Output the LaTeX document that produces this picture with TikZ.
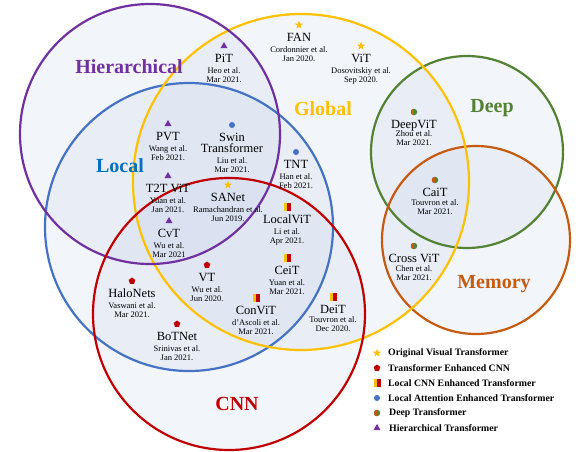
\documentclass[tikz,border=0pt]{standalone}
\usepackage{fontspec}
\setmainfont{Liberation Serif}
\usetikzlibrary{shapes.geometric}
\definecolor{hiercol}{HTML}{7030A0}
\definecolor{globcol}{HTML}{FFC000}
\definecolor{loccol}{HTML}{4472C4}
\definecolor{loctext}{HTML}{0070C0}
\definecolor{cnncol}{HTML}{C00000}
\definecolor{deepcol}{HTML}{548235}
\definecolor{memcol}{HTML}{C55A11}
\definecolor{setfill}{RGB}{200,210,235}
% marker, title and authors of one model
\newcommand{\model}[8][0]{%
  \node[#5] (#2-mark) at (#3,#4) {};
  \node[title, anchor=base] (#2) at (#3,#4+16) {#6};
  \node[info, anchor=base] (#2-auth) at (#3,#4+27+#1) {#7};
  \node[info, anchor=base] (#2-date) at (#3,#4+36+#1) {#8};
}
\begin{document}
\begin{tikzpicture}[x=1pt, y=-1pt,
  area/.style={fill=setfill, fill opacity=0.22},
  ring/.style={line width=2.2pt},
  group/.style={font=\fontsize{20}{22}\selectfont\bfseries},
  title/.style={font=\fontsize{12.5}{13}\selectfont, inner sep=0pt},
  info/.style={font=\fontsize{8.5}{9}\selectfont, inner sep=0pt},
  legend/.style={font=\fontsize{9.8}{11}\selectfont\bfseries, inner sep=0pt, anchor=west},
  origmark/.style={star, star points=5, star point ratio=2.3, fill=globcol, inner sep=0pt, minimum size=8.5pt},
  cnnmark/.style={regular polygon, regular polygon sides=5, fill=cnncol, inner sep=0pt, minimum size=7pt},
  lcnnmark/.style={rectangle, fill=cnncol, minimum width=7pt, minimum height=8pt, inner sep=0pt,
    path picture={\fill[globcol] (path picture bounding box.south west) rectangle (path picture bounding box.north);}},
  attmark/.style={circle, fill=loccol, minimum size=6pt, inner sep=0pt},
  deepmark/.style={circle, fill=deepcol, minimum size=6.5pt, inner sep=0pt,
    path picture={\fill[memcol] (path picture bounding box.south west) rectangle (path picture bounding box.north);}},
  hiermark/.style={regular polygon, regular polygon sides=3, fill=hiercol, inner sep=0pt, minimum size=8pt}]
\useasboundingbox[fill=white] (0,0) rectangle (576,451);
% the six sets
\coordinate (hier) at (150,134);
\coordinate (glob) at (301,182);
\coordinate (loc)  at (189,227);
\coordinate (cnn)  at (229,314);
\coordinate (deep) at (467,152);
\coordinate (mem)  at (476,240);
\foreach \c/\r in {hier/130, glob/168, loc/144, cnn/136, deep/96, mem/94}
  \fill[area] (\c) circle[radius=\r];
\draw[ring, deepcol] (deep) circle[radius=96];
\draw[ring, memcol]  (mem)  circle[radius=94];
\draw[ring, loccol]  (loc)  circle[radius=144];
\draw[ring, globcol] (glob) circle[radius=168];
\draw[ring, hiercol] (hier) circle[radius=130];
\draw[ring, cnncol]  (cnn)  circle[radius=136];
% set names
\node[group, hiercol] (hier-name) at (129,67)  {Hierarchical};
\node[group, globcol] (glob-name) at (323,109) {Global};
\node[group, loctext] (loc-name)  at (120,166) {Local};
\node[group, deepcol] (deep-name) at (492,108) {Deep};
\node[group, memcol]  (mem-name)  at (494,284) {Memory};
\node[group, cnncol]  (cnn-name)  at (237,404) {CNN};
% models
\model{fan}{299}{25}{origmark}{FAN}{Cordonnier et al.}{Jan 2020.}
\model{vit}{361}{46}{origmark}{ViT}{Dosovitskiy et al.}{Sep 2020.}
\model{pit}{224}{46}{hiermark}{PiT}{Heo et al.}{Mar 2021.}
\model{pvt}{168}{124}{hiermark}{PVT}{Wang et al.}{Feb 2021.}
\model[11]{swin}{232}{125}{attmark}{Swin}{Liu et al.}{Mar 2021.}
\node[title, anchor=base] (swin-2) at (232,152) {Transformer};
\model{tnt}{296}{152}{attmark}{TNT}{Han et al.}{Feb 2021.}
\model{t2t}{168}{176}{hiermark}{T2T ViT}{Yuan et al.}{Jan 2021.}
\model{sanet}{228}{185}{origmark}{SANet}{Ramachandran et al.}{Jun 2019.}
\model{localvit}{287}{207}{lcnnmark}{LocalViT}{Li et al.}{Apr 2021.}
\model{cvt}{169}{221}{hiermark}{CvT}{Wu et al.}{Mar 2021}
\model{vt}{207}{265}{cnnmark}{VT}{Wu et al.}{Jun 2020.}
\model{ceit}{287}{258}{lcnnmark}{CeiT}{Yuan et al.}{Mar 2021.}
\model{halo}{132}{281}{cnnmark}{HaloNets}{Vaswani et al.}{Mar 2021.}
\model{convit}{256}{298}{lcnnmark}{ConViT}{d'Ascoli et al.}{Mar 2021.}
\model[-2]{deit}{333}{297}{lcnnmark}{DeiT}{Touvron et al.}{Dec 2020.}
\model{botnet}{177}{324}{cnnmark}{BoTNet}{Srinivas et al.}{Jan 2021.}
\model[-3]{deepvit}{414}{112}{deepmark}{DeepViT}{Zhou et al.}{Mar 2021.}
\model[-2]{cait}{435}{180}{deepmark}{CaiT}{Touvron et al.}{Mar 2021.}
\model[-2]{crossvit}{414}{246}{deepmark}{Cross ViT}{Chen et al.}{Mar 2021.}
% legend
\node[origmark] (leg1-mark) at (377,353) {};
\node[legend] (leg1) at (388,353) {Original Visual Transformer};
\node[cnnmark]  (leg2-mark) at (377,368) {};
\node[legend] (leg2) at (388,368) {Transformer Enhanced CNN};
\node[lcnnmark] (leg3-mark) at (377,383) {};
\node[legend] (leg3) at (388,383) {Local CNN Enhanced Transformer};
\node[attmark]  (leg4-mark) at (377,398) {};
\node[legend] (leg4) at (388,398) {Local Attention Enhanced Transformer};
\node[deepmark] (leg5-mark) at (377,413) {};
\node[legend] (leg5) at (389,413) {Deep Transformer};
\node[hiermark] (leg6-mark) at (377,428) {};
\node[legend] (leg6) at (389,428) {Hierarchical Transformer};
\end{tikzpicture}
\end{document}
